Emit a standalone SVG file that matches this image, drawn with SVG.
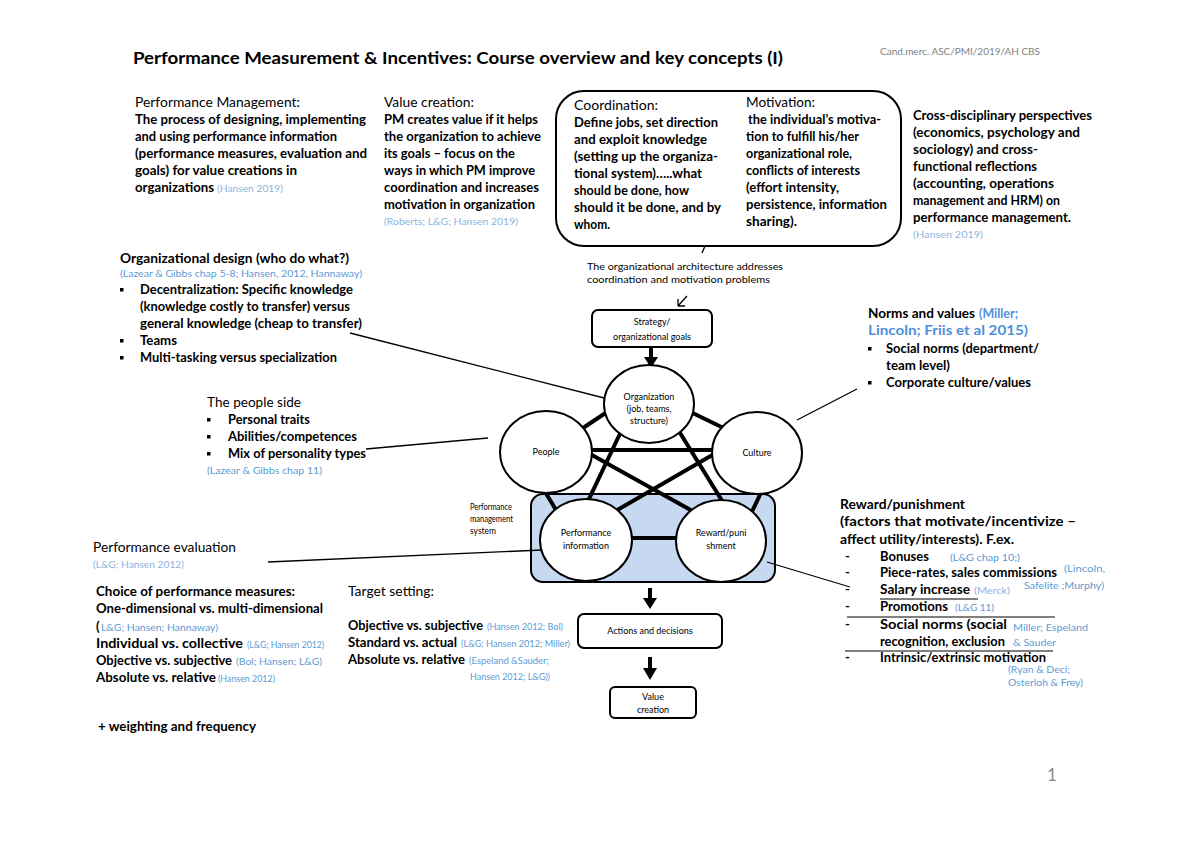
<svg xmlns="http://www.w3.org/2000/svg" width="1200" height="848" viewBox="0 0 1200 848">
<defs>
<style>
text{font-family:Lato,'Liberation Sans','DejaVu Sans',sans-serif;fill:#000}
.t{font-size:13px;font-weight:bold}
.n{font-size:13px;font-weight:normal}
.r{font-size:9.5px;fill:#5B9BD5}
.rl{font-size:9.5px;fill:#8DB4E2}
.bb{font-size:13px;font-weight:bold;fill:#4F8FDC}
.s{font-size:9.5px}
.c{font-size:9px;text-anchor:middle}
.thick{stroke:#000;stroke-width:4;fill:none}
.thin{stroke:#000;stroke-width:1.3;fill:none}
.node{fill:#fff;stroke:#000;stroke-width:2}
.box{fill:#fff;stroke:#000;stroke-width:2}
.bul{fill:#000}
.ul{stroke:#000;stroke-width:1}
</style>
</defs>
<rect width="1200" height="848" fill="#fff"/>

<g id="title">
<text x="133" y="64" font-size="17" font-weight="bold" textLength="650" lengthAdjust="spacingAndGlyphs">Performance Measurement &amp; Incentives: Course overview and key concepts (I)</text>
<text x="880" y="55" font-size="10" style="fill:#7f7f7f" textLength="160" lengthAdjust="spacingAndGlyphs">Cand.merc. ASC/PMI/2019/AH CBS</text>
</g>

<g id="performance-management">
<text x="135" y="107" class="n" textLength="165" lengthAdjust="spacingAndGlyphs">Performance Management:</text>
<text x="135" y="124" class="t" textLength="231" lengthAdjust="spacingAndGlyphs">The process of designing, implementing</text>
<text x="135" y="141" class="t" textLength="202" lengthAdjust="spacingAndGlyphs">and using performance information</text>
<text x="135" y="158" class="t" textLength="232" lengthAdjust="spacingAndGlyphs">(performance measures, evaluation and</text>
<text x="135" y="175" class="t" textLength="162" lengthAdjust="spacingAndGlyphs">goals) for value creations in</text>
<text x="135" y="192" class="t" textLength="79" lengthAdjust="spacingAndGlyphs">organizations</text>
<text x="217" y="192" class="rl" textLength="66" lengthAdjust="spacingAndGlyphs">(Hansen 2019)</text>
</g>

<g id="value-creation-text">
<text x="384" y="107" class="n" textLength="90" lengthAdjust="spacingAndGlyphs">Value creation:</text>
<text x="384" y="124" class="t" textLength="154" lengthAdjust="spacingAndGlyphs">PM creates value if it helps</text>
<text x="384" y="141" class="t" textLength="157" lengthAdjust="spacingAndGlyphs">the organization to achieve</text>
<text x="384" y="158" class="t" textLength="131" lengthAdjust="spacingAndGlyphs">its goals – focus on the</text>
<text x="384" y="175" class="t" textLength="151" lengthAdjust="spacingAndGlyphs">ways in which PM improve</text>
<text x="384" y="192" class="t" textLength="155" lengthAdjust="spacingAndGlyphs">coordination and increases</text>
<text x="384" y="209" class="t" textLength="151" lengthAdjust="spacingAndGlyphs">motivation in organization</text>
<text x="384" y="225" class="rl" textLength="134" lengthAdjust="spacingAndGlyphs">(Roberts; L&amp;G; Hansen 2019)</text>
</g>

<g id="coordination-motivation">
<rect x="556" y="91" width="345" height="155" rx="28" class="box"/>
<text x="574" y="110" class="n" textLength="84" lengthAdjust="spacingAndGlyphs">Coordination:</text>
<text x="574" y="127" class="t" textLength="144" lengthAdjust="spacingAndGlyphs">Define jobs, set direction</text>
<text x="574" y="144" class="t" textLength="133" lengthAdjust="spacingAndGlyphs">and exploit knowledge</text>
<text x="574" y="161" class="t" textLength="144" lengthAdjust="spacingAndGlyphs">(setting up the organiza-</text>
<text x="574" y="178" class="t" textLength="128" lengthAdjust="spacingAndGlyphs">tional system)…..what</text>
<text x="574" y="195" class="t" textLength="115" lengthAdjust="spacingAndGlyphs">should be done, how</text>
<text x="574" y="212" class="t" textLength="147" lengthAdjust="spacingAndGlyphs">should it be done, and by</text>
<text x="574" y="229" class="t" textLength="36" lengthAdjust="spacingAndGlyphs">whom.</text>
<text x="746" y="107" class="n" textLength="69" lengthAdjust="spacingAndGlyphs">Motivation:</text>
<text x="748" y="124" class="t" textLength="133" lengthAdjust="spacingAndGlyphs">the individual’s motiva-</text>
<text x="746" y="141" class="t" textLength="113" lengthAdjust="spacingAndGlyphs">tion to fulfill his/her</text>
<text x="746" y="158" class="t" textLength="106" lengthAdjust="spacingAndGlyphs">organizational role,</text>
<text x="746" y="175" class="t" textLength="114" lengthAdjust="spacingAndGlyphs">conflicts of interests</text>
<text x="746" y="192" class="t" textLength="93" lengthAdjust="spacingAndGlyphs">(effort intensity,</text>
<text x="746" y="209" class="t" textLength="141" lengthAdjust="spacingAndGlyphs">persistence, information</text>
<text x="746" y="226" class="t" textLength="51" lengthAdjust="spacingAndGlyphs">sharing).</text>
</g>

<g id="cross-disciplinary">
<text x="913" y="120" class="t" textLength="179" lengthAdjust="spacingAndGlyphs">Cross-disciplinary perspectives</text>
<text x="913" y="137" class="t" textLength="167" lengthAdjust="spacingAndGlyphs">(economics, psychology and</text>
<text x="913" y="154" class="t" textLength="125" lengthAdjust="spacingAndGlyphs">sociology) and cross-</text>
<text x="913" y="171" class="t" textLength="124" lengthAdjust="spacingAndGlyphs">functional reflections</text>
<text x="913" y="188" class="t" textLength="141" lengthAdjust="spacingAndGlyphs">(accounting, operations</text>
<text x="913" y="205" class="t" textLength="147" lengthAdjust="spacingAndGlyphs">management and HRM) on</text>
<text x="913" y="222" class="t" textLength="158" lengthAdjust="spacingAndGlyphs">performance management.</text>
<text x="913" y="238" class="rl" textLength="70" lengthAdjust="spacingAndGlyphs">(Hansen 2019)</text>
</g>

<g id="architecture-note">
<text x="587" y="270" class="s" textLength="196" lengthAdjust="spacingAndGlyphs">The organizational architecture addresses</text>
<text x="587" y="283" class="s" textLength="183" lengthAdjust="spacingAndGlyphs">coordination and motivation problems</text>
</g>

<g id="organizational-design">
<text x="120" y="263" class="t" textLength="229" lengthAdjust="spacingAndGlyphs">Organizational design (who do what?)</text>
<text x="120" y="277" class="r" textLength="242" lengthAdjust="spacingAndGlyphs">(Lazear &amp; Gibbs chap 5-8; Hansen, 2012, Hannaway)</text>
<rect x="120" y="288" width="3.5" height="3.5" class="bul"/>
<rect x="120" y="339" width="3.5" height="3.5" class="bul"/>
<rect x="120" y="356" width="3.5" height="3.5" class="bul"/>
<text x="140" y="294" class="t" textLength="213" lengthAdjust="spacingAndGlyphs">Decentralization: Specific knowledge</text>
<text x="140" y="311" class="t" textLength="210" lengthAdjust="spacingAndGlyphs">(knowledge costly to transfer) versus</text>
<text x="140" y="328" class="t" textLength="222" lengthAdjust="spacingAndGlyphs">general knowledge (cheap to transfer)</text>
<text x="140" y="345" class="t" textLength="37" lengthAdjust="spacingAndGlyphs">Teams</text>
<text x="140" y="362" class="t" textLength="197" lengthAdjust="spacingAndGlyphs">Multi-tasking versus specialization</text>
</g>

<g id="people-side">
<text x="207" y="407" class="n" textLength="94" lengthAdjust="spacingAndGlyphs">The people side</text>
<rect x="207" y="418" width="3.5" height="3.5" class="bul"/>
<rect x="207" y="435" width="3.5" height="3.5" class="bul"/>
<rect x="207" y="452" width="3.5" height="3.5" class="bul"/>
<text x="228" y="424" class="t" textLength="82" lengthAdjust="spacingAndGlyphs">Personal traits</text>
<text x="228" y="441" class="t" textLength="129" lengthAdjust="spacingAndGlyphs">Abilities/competences</text>
<text x="228" y="458" class="t" textLength="138" lengthAdjust="spacingAndGlyphs">Mix of personality types</text>
<text x="207" y="474" class="r" textLength="115" lengthAdjust="spacingAndGlyphs">(Lazear &amp; Gibbs chap 11)</text>
</g>

<g id="norms-values">
<text x="868" y="318" class="t" textLength="107" lengthAdjust="spacingAndGlyphs">Norms and values</text>
<text x="979" y="318" class="bb" textLength="39" lengthAdjust="spacingAndGlyphs">(Miller;</text>
<text x="868" y="335" class="bb" textLength="160" lengthAdjust="spacingAndGlyphs">Lincoln; Friis et al 2015)</text>
<rect x="868" y="347" width="3.5" height="3.5" class="bul"/>
<rect x="868" y="381" width="3.5" height="3.5" class="bul"/>
<text x="886" y="353" class="t" textLength="153" lengthAdjust="spacingAndGlyphs">Social norms (department/</text>
<text x="886" y="370" class="t" textLength="64" lengthAdjust="spacingAndGlyphs">team level)</text>
<text x="886" y="387" class="t" textLength="145" lengthAdjust="spacingAndGlyphs">Corporate culture/values</text>
</g>

<g id="reward-punishment-text">
<text x="840" y="509" class="t" textLength="125" lengthAdjust="spacingAndGlyphs">Reward/punishment</text>
<text x="840" y="526" class="t" textLength="236" lengthAdjust="spacingAndGlyphs">(factors that motivate/incentivize –</text>
<text x="840" y="544" class="t" textLength="174" lengthAdjust="spacingAndGlyphs">affect utility/interests). F.ex.</text>
<text x="845" y="561" class="t">-</text>
<text x="845" y="577" class="t">-</text>
<text x="845" y="594" class="t">-</text>
<text x="845" y="611" class="t">-</text>
<text x="845" y="629" class="t">-</text>
<text x="845" y="662" class="t">-</text>
<text x="880" y="561" class="t" textLength="49" lengthAdjust="spacingAndGlyphs">Bonuses</text>
<text x="950" y="561" class="r" textLength="70" lengthAdjust="spacingAndGlyphs">(L&amp;G chap 10;)</text>
<text x="880" y="577" class="t" textLength="177" lengthAdjust="spacingAndGlyphs">Piece-rates, sales commissions</text>
<text x="1064" y="572" class="r" textLength="41" lengthAdjust="spacingAndGlyphs">(Lincoln,</text>
<text x="1024" y="589" class="r" font-size="9" textLength="80" lengthAdjust="spacingAndGlyphs">Safelite ;Murphy)</text>
<text x="880" y="594" class="t" textLength="90" lengthAdjust="spacingAndGlyphs">Salary increase</text>
<text x="974" y="594" class="rl" textLength="36" lengthAdjust="spacingAndGlyphs">(Merck)</text>
<line x1="880" y1="599" x2="978" y2="599" class="ul"/>
<text x="880" y="611" class="t" textLength="68" lengthAdjust="spacingAndGlyphs">Promotions</text>
<text x="955" y="611" class="r" textLength="39" lengthAdjust="spacingAndGlyphs">(L&amp;G 11)</text>
<line x1="847" y1="617" x2="1055" y2="617" class="ul"/>
<text x="880" y="629" class="t" textLength="127" lengthAdjust="spacingAndGlyphs">Social norms (social</text>
<text x="1013" y="631" class="r" textLength="75" lengthAdjust="spacingAndGlyphs">Miller; Espeland</text>
<text x="880" y="646" class="t" textLength="125" lengthAdjust="spacingAndGlyphs">recognition, exclusion</text>
<text x="1013" y="646" class="r" textLength="43" lengthAdjust="spacingAndGlyphs">&amp; Sauder</text>
<line x1="845" y1="651" x2="1053" y2="651" class="ul"/>
<text x="880" y="662" class="t" textLength="166" lengthAdjust="spacingAndGlyphs">Intrinsic/extrinsic motivation</text>
<text x="1008" y="673" class="r" textLength="62" lengthAdjust="spacingAndGlyphs">(Ryan &amp; Deci;</text>
<text x="1008" y="686" class="r" textLength="75" lengthAdjust="spacingAndGlyphs">Osterloh &amp; Frey)</text>
</g>

<g id="performance-evaluation">
<text x="93" y="552" class="n" textLength="143" lengthAdjust="spacingAndGlyphs">Performance evaluation</text>
<text x="93" y="568" class="rl" textLength="91" lengthAdjust="spacingAndGlyphs">(L&amp;G; Hansen 2012)</text>
<text x="96" y="596" class="t" textLength="199" lengthAdjust="spacingAndGlyphs">Choice of performance measures:</text>
<text x="96" y="613" class="t" textLength="227" lengthAdjust="spacingAndGlyphs">One-dimensional vs. multi-dimensional</text>
<text x="96" y="631" class="t">(</text>
<text x="101" y="631" class="r" textLength="117" lengthAdjust="spacingAndGlyphs">L&amp;G; Hansen; Hannaway)</text>
<text x="96" y="648" class="t" textLength="147" lengthAdjust="spacingAndGlyphs">Individual vs. collective</text>
<text x="247" y="648" class="r" textLength="77" lengthAdjust="spacingAndGlyphs">(L&amp;G; Hansen 2012)</text>
<text x="96" y="665" class="t" textLength="136" lengthAdjust="spacingAndGlyphs">Objective vs. subjective</text>
<text x="236" y="665" class="r" textLength="86" lengthAdjust="spacingAndGlyphs">(Bol; Hansen; L&amp;G)</text>
<text x="96" y="682" class="t" textLength="120" lengthAdjust="spacingAndGlyphs">Absolute vs. relative</text>
<text x="218" y="682" class="r" font-size="8.5" textLength="57" lengthAdjust="spacingAndGlyphs">(Hansen 2012)</text>
<text x="98" y="731" class="t" textLength="158" lengthAdjust="spacingAndGlyphs">+ weighting and frequency</text>
</g>

<g id="target-setting">
<text x="348" y="596" class="n" textLength="86" lengthAdjust="spacingAndGlyphs">Target setting:</text>
<text x="348" y="630" class="t" textLength="135" lengthAdjust="spacingAndGlyphs">Objective vs. subjective</text>
<text x="487" y="630" class="r" textLength="76" lengthAdjust="spacingAndGlyphs">(Hansen 2012; Bol)</text>
<text x="348" y="647" class="t" textLength="109" lengthAdjust="spacingAndGlyphs">Standard vs. actual</text>
<text x="461" y="647" class="r" textLength="109" lengthAdjust="spacingAndGlyphs">(L&amp;G; Hansen 2012; Miller)</text>
<text x="348" y="664" class="t" textLength="117" lengthAdjust="spacingAndGlyphs">Absolute vs. relative</text>
<text x="469" y="664" class="r" textLength="80" lengthAdjust="spacingAndGlyphs">(Espeland &amp;Sauder;</text>
<text x="470" y="680" class="r" textLength="80" lengthAdjust="spacingAndGlyphs">Hansen 2012; L&amp;G))</text>
</g>

<g id="pms-box">
<rect x="531" y="494" width="244" height="88" rx="12" fill="#C6D9F1" stroke="#000" stroke-width="2"/>
<text x="470" y="510" font-size="8.5" textLength="42" lengthAdjust="spacingAndGlyphs">Performance</text>
<text x="470" y="522" font-size="8.5" textLength="43" lengthAdjust="spacingAndGlyphs">management</text>
<text x="470" y="534" font-size="8.5" textLength="26" lengthAdjust="spacingAndGlyphs">system</text>
</g>

<g id="connectors">
<line x1="350" y1="333" x2="608" y2="399" class="thin"/>
<line x1="366" y1="449" x2="488" y2="438" class="thin"/>
<line x1="268" y1="562" x2="542" y2="550" class="thin"/>
<line x1="797" y1="420" x2="857" y2="389" class="thin"/>
<line x1="767" y1="562" x2="850" y2="587" class="thin"/>
<line x1="705" y1="246" x2="702" y2="253" class="thin"/>
<path d="M687 296 L678 306 M678 306 L678 299 M678 306 L685 306" class="thin"/>
<line x1="625" y1="400" x2="565" y2="440" class="thick"/>
<line x1="670" y1="402" x2="740" y2="436" class="thick"/>
<line x1="560" y1="450" x2="740" y2="450" class="thick"/>
<line x1="626.5" y1="420" x2="579" y2="520" class="thick"/>
<line x1="672" y1="420" x2="734" y2="520" class="thick"/>
<line x1="565" y1="440" x2="705" y2="518" class="thick"/>
<line x1="740" y1="439" x2="600" y2="520" class="thick"/>
<line x1="610" y1="538" x2="700" y2="538" class="thick"/>
<line x1="538" y1="480" x2="562" y2="520" class="thick"/>
<line x1="767" y1="480" x2="748" y2="520" class="thick"/>
<path d="M651 347 V358" class="thick"/>
<polygon points="644,357 658,357 651,368" fill="#000"/>
<path d="M650 588 V599" class="thick"/>
<polygon points="643,598 657,598 650,609" fill="#000"/>
<path d="M650 657 V669" class="thick"/>
<polygon points="643,668 657,668 650,680" fill="#000"/>
</g>

<g id="strategy">
<rect x="592" y="310" width="120" height="37" rx="6" class="box"/>
<text x="652" y="325" class="c">Strategy/</text>
<text x="652" y="340" class="c">organizational goals</text>
</g>
<g id="organization">
<ellipse cx="649" cy="404" rx="45" ry="39" class="node"/>
<text x="649" y="400" class="c">Organization</text>
<text x="649" y="412" class="c">(job, teams,</text>
<text x="649" y="424" class="c">structure)</text>
</g>
<g id="people">
<ellipse cx="546" cy="452" rx="46" ry="41" class="node"/>
<text x="546" y="455" class="c">People</text>
</g>
<g id="culture">
<ellipse cx="757" cy="453" rx="45" ry="41" class="node"/>
<text x="757" y="456" class="c">Culture</text>
</g>
<g id="performance-information">
<ellipse cx="586" cy="540" rx="46" ry="41" class="node"/>
<text x="586" y="536" class="c">Performance</text>
<text x="586" y="549" class="c">information</text>
</g>
<g id="reward-punishment">
<ellipse cx="721" cy="541" rx="45" ry="41" class="node"/>
<text x="721" y="536" class="c">Reward/puni</text>
<text x="721" y="549" class="c">shment</text>
</g>
<g id="actions">
<rect x="578" y="614" width="144" height="34" rx="6" class="box"/>
<text x="650" y="634" class="c" font-size="10">Actions and decisions</text>
</g>
<g id="value-creation">
<rect x="610" y="687" width="86" height="31" rx="5" class="box"/>
<text x="653" y="700" class="c">Value</text>
<text x="653" y="713" class="c">creation</text>
</g>

<text x="1047" y="781" font-size="17" style="fill:#888">1</text>
</svg>
